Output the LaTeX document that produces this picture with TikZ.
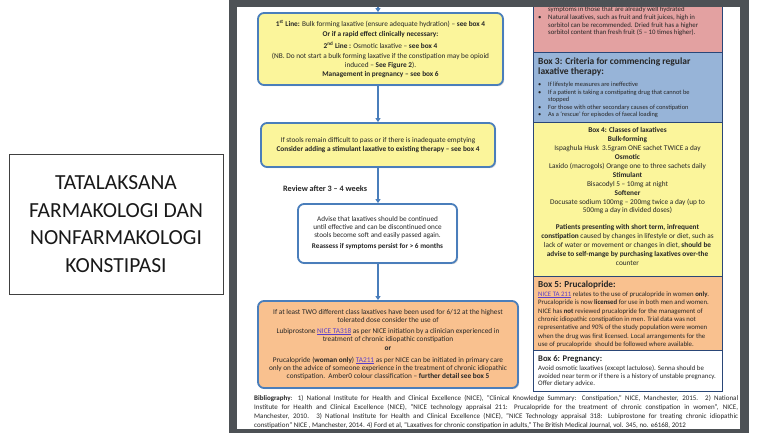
\documentclass[tikz,border=0pt]{standalone}
\usepackage{fontspec}
\setmainfont{Carlito}
\usetikzlibrary{arrows.meta,shadows}
\definecolor{framec}{HTML}{4D5155}
\definecolor{lineblue}{HTML}{4A7EBB}
\definecolor{boxyellow}{HTML}{FBF59B}
\definecolor{boxorange}{HTML}{F9C18F}
\definecolor{boxred}{HTML}{E3A1A1}
\definecolor{boxblue}{HTML}{97B4D8}
\definecolor{navy}{HTML}{2A4677}
\definecolor{linkc}{HTML}{5B3FC8}
\definecolor{txt}{HTML}{262626}
\newsavebox{\lnkbox}
\newcommand{\lnk}[1]{\sbox{\lnkbox}{\color{linkc}#1}{\color{linkc}\rlap{\rule[-1.1pt]{\wd\lnkbox}{0.45pt}}}\usebox{\lnkbox}}
\begin{document}
\begin{tikzpicture}[x=1pt,y=-1pt,
  flowbox/.style={draw=lineblue, line width=1.8pt, rounded corners=6pt, align=center, text=txt, inner sep=0pt,
    drop shadow={shadow xshift=1.2pt, shadow yshift=-1.2pt, opacity=0.3}},
  colbox/.style={draw=navy, line width=1.3pt, anchor=north west, minimum width=189pt, inner sep=0pt},
  ctext/.style={anchor=north west, inner sep=0pt, text=txt, align=left},
  conn/.style={draw=lineblue, line width=1.3pt, -{Triangle[length=4pt,width=5pt]}},
  titlebox/.style={draw=black!75, line width=0.8pt, minimum width=214pt, minimum height=140pt, align=center, text=black!90,
    font={\fontsize{21.5}{27.5}\selectfont}}
]
\useasboundingbox (0,0) rectangle (768,433);
\fill[white] (0,0) rectangle (768,433);

% title box
\node[titlebox] (title) at (116,224) {TATALAKSANA\\FARMAKOLOGI DAN\\NONFARMAKOLOGI\\KONSTIPASI};

% page
\fill[white] (237,7) rectangle (740,429);

% right column boxes
\node[colbox, fill=boxred, minimum height=52pt] (r2) at (533,0) {};
\node[colbox, fill=boxblue, minimum height=70pt] (r3) at (533,52) {};
\node[colbox, fill=boxyellow, minimum height=154pt] (r4) at (533,122) {};
\node[colbox, fill=boxorange, minimum height=74pt] (r5) at (533,276) {};
\node[colbox, fill=white, minimum height=41pt] (r6) at (533,350) {};

\node[ctext, font={\fontsize{6.8}{7.7}\selectfont}] (t2) at (538,6.3) {%
\begin{tabular}{@{}p{10pt}@{}l@{}}
 & symptoms in those that are already well hydrated\\
\textbullet & Natural laxatives, such as fruit and fruit juices, high in\\
 & sorbitol can be recommended. Dried fruit has a higher\\
 & sorbitol content than fresh fruit (5 – 10 times higher).
\end{tabular}};

\node[ctext, font={\fontsize{9.5}{10}\selectfont\bfseries}] (h3) at (538,57.4) {Box 3: Criteria for commencing regular\\laxative therapy:};
\node[ctext, font={\fontsize{6.4}{7.5}\selectfont}] (t3) at (538,81.35) {%
\begin{tabular}{@{}p{10pt}@{}l@{}}
\textbullet & If lifestyle measures are ineffective\\
\textbullet & If a patient is taking a constipating drug that cannot be\\
 & stopped\\
\textbullet & For those with other secondary causes of constipation\\
\textbullet & As a `rescue' for episodes of faecal loading
\end{tabular}};

\node[inner sep=0pt, anchor=north, align=center, text=txt, font={\fontsize{7.3}{8.9}\selectfont}] (t4) at (627.5,127.5) {%
\textbf{Box 4: Classes of laxatives}\\
\textbf{Bulk-forming}\\
Ispaghula Husk\ \ 3.5gram ONE sachet TWICE a day\\
\textbf{Osmotic}\\
Laxido (macrogols) Orange one to three sachets daily\\
\textbf{Stimulant}\\
Bisacodyl 5 – 10mg at night\\
\textbf{Softener}\\
Docusate sodium 100mg – 200mg twice a day (up to\\
500mg a day in divided doses)\\[8pt]
\textbf{Patients presenting with short term, infrequent}\\
\textbf{constipation} caused by changes in lifestyle or diet, such as\\
lack of water or movement or changes in diet, \textbf{should be}\\
\textbf{advise to self-mange by purchasing laxatives over-the}\\
counter};

\node[ctext, font={\fontsize{9.2}{10}\selectfont\bfseries}] (h5) at (538,280.6) {Box 5: Prucalopride:};
\node[ctext, font={\fontsize{6.8}{8.3}\selectfont}] (t5) at (538,291.7) {%
\lnk{NICE TA 211} relates to the use of prucalopride in women \textbf{only}.\\
Prucalopride is now \textbf{licensed} for use in both men and women.\\
NICE has \textbf{not} reviewed prucalopride for the management of\\
chronic idiopathic constipation in men. Trial data was not\\
representative and 90\% of the study population were women\\
when the drug was first licensed. Local arrangements for the\\
use of prucalopride\ \ should be followed where available.};

\node[ctext, font={\fontsize{8.6}{10}\selectfont\bfseries}] (h6) at (538,355.9) {Box 6: Pregnancy:};
\node[ctext, font={\fontsize{6.9}{7.5}\selectfont}] (t6) at (538,365.7) {%
Avoid osmotic laxatives (except lactulose). Senna should be\\
avoided near term or if there is a history of unstable pregnancy.\\
Offer dietary advice.};

% left flow column
\coordinate (ax) at (378,0);
\coordinate (top) at (378,5);
\node[flowbox, fill=boxyellow, minimum width=245pt, minimum height=72pt, font={\fontsize{7.3}{9}\selectfont}] (b1) at (380.5,49) {%
\textbf{1\textsuperscript{st} Line:} Bulk forming laxative (ensure adequate hydration) – \textbf{see box 4}\\[1pt]
\textbf{Or if a rapid effect clinically necessary:}\\[3pt]
\textbf{2\textsuperscript{nd} Line :} Osmotic laxative – \textbf{see box 4}\\[1pt]
(NB. Do not start a bulk forming laxative if the constipation may be opioid\\
induced – \textbf{See Figure 2}).\\
\textbf{Management in pregnancy – see box 6}};

\node[flowbox, fill=boxyellow, minimum width=234pt, minimum height=44pt, font={\fontsize{7.3}{8.2}\selectfont}] (b2) at (378,145) {%
If stools remain difficult to pass or if there is inadequate emptying\\
\textbf{Consider adding a stimulant laxative to existing therapy – see box 4}};

\node[anchor=west, inner sep=0pt, text=txt, font={\fontsize{8.2}{9}\selectfont\bfseries}] (rev) at (283,189) {Review after 3 – 4 weeks};

\node[flowbox, fill=white, minimum width=159pt, minimum height=59pt, font={\fontsize{7.2}{7.7}\selectfont}] (b3) at (377.5,233.5) {%
Advise that laxatives should be continued\\
until effective and can be discontinued once\\
stools become soft and easily passed again.\\[4pt]
\textbf{Reassess if symptoms persist for > 6 months}};

\node[flowbox, fill=boxorange, minimum width=260pt, minimum height=87pt, font={\fontsize{7.3}{8.2}\selectfont}] (b4) at (388,344.5) {%
If at least TWO different class laxatives have been used for 6/12 at the highest\\
tolerated dose consider the use of\\[2.8pt]
Lubiprostone \lnk{NICE TA318} as per NICE initiation by a clinician experienced in\\
treatment of chronic idiopathic constipation\\[1pt]
\textbf{or}\\[3.5pt]
Prucalopride (\textbf{woman only}) \lnk{TA211} as per NICE can be initiated in primary care\\
only on the advice of someone experience in the treatment of chronic idiopathic\\
constipation.\ \ Amber0 colour classification – \textbf{further detail see box 5}};

\draw[conn] (top) -- (b1.north -| ax);
\draw[conn] (b1.south -| ax) -- (b2.north -| ax);
\draw[conn] (b2.south -| ax) -- (b3.north -| ax);
\draw[conn] (b3.south -| ax) -- (b4.north -| ax);

% bibliography
\node[anchor=north west, inner sep=0pt, text width=484pt, align=justify, text=txt, font={\fontsize{7}{9}\selectfont}] (bib) at (254,395.6) {%
\textbf{Bibliography}: 1) National Institute for Health and Clinical Excellence (NICE), "Clinical Knowledge Summary: Constipation," NICE, Manchester, 2015. 2) National\linebreak
Institute for Health and Clinical Excellence (NICE), "NICE technology appraisal 211: Prucalopride for the treatment of chronic constipation in women", NICE,\linebreak
Manchester, 2010. 3) National Institute for Health and Clinical Excellence (NICE), "NICE Technology appraisal 318: Lubiprostone for treating chronic idiopathic\linebreak
constipation" NICE , Manchester, 2014. 4) Ford et al, "Laxatives for chronic constipation in adults," The British Medical Journal, vol. 345, no. e6168, 2012};

% viewer frame on top
\fill[framec] (229,0) rectangle (237,433);
\fill[framec] (229,0) rectangle (749,7);
\fill[framec] (740,0) rectangle (749,433);
\fill[framec] (229,429) rectangle (749,433);
\end{tikzpicture}
\end{document}
